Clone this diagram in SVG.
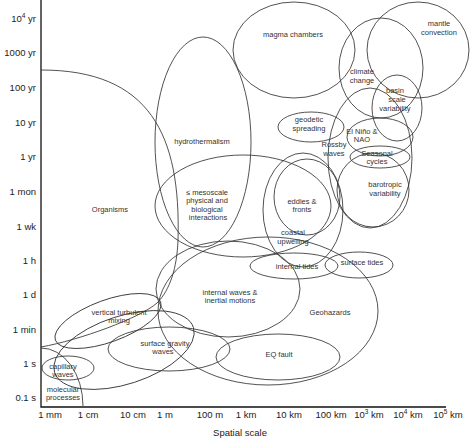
<svg xmlns="http://www.w3.org/2000/svg" width="474" height="440" viewBox="0 0 474 440">
<style>
.e{fill:none;stroke:#333;stroke-width:0.85}
.t{font-family:"Liberation Sans",Arial,sans-serif;font-size:7.5px;fill:#333;text-anchor:middle}
.ax{font-family:"Liberation Sans",Arial,sans-serif;font-size:9.5px;fill:#222}
.ya{text-anchor:end}
.xa{text-anchor:middle}
.axis{fill:none;stroke:#111;stroke-width:1.3}
</style>
<rect width="474" height="440" fill="#fff"/>

<g id="axes">
<path class="axis" d="M41,0 V407 H446"/>
<g class="ax ya">
<text x="36" y="22">10<tspan font-size="6.5" dy="-4">4</tspan><tspan dy="4"> yr</tspan></text>
<text x="36" y="56">1000 yr</text>
<text x="36" y="91">100 yr</text>
<text x="36" y="126">10 yr</text>
<text x="36" y="160">1 yr</text>
<text x="36" y="195">1 mon</text>
<text x="36" y="230">1 wk</text>
<text x="36" y="264">1 h</text>
<text x="36" y="298">1 d</text>
<text x="36" y="333">1 min</text>
<text x="36" y="367">1 s</text>
<text x="36" y="401">0.1 s</text>
</g>
<g class="ax xa">
<text x="50" y="418">1 mm</text>
<text x="88" y="418">1 cm</text>
<text x="133" y="418">10 cm</text>
<text x="165" y="418">1 m</text>
<text x="210" y="418">100 m</text>
<text x="246" y="418">1 km</text>
<text x="289" y="418">10 km</text>
<text x="331" y="418">100 km</text>
<text x="369" y="418">10<tspan font-size="6.5" dy="-4">3</tspan><tspan dy="4"> km</tspan></text>
<text x="408" y="418">10<tspan font-size="6.5" dy="-4">4</tspan><tspan dy="4"> km</tspan></text>
<text x="448" y="418">10<tspan font-size="6.5" dy="-4">5</tspan><tspan dy="4"> km</tspan></text>
<text x="240" y="436">Spatial scale</text>
</g>
</g>

<g id="organisms"><path class="e" d="M41,70 C150,70 181,135 178,240 C177,268 170,290 157,303 C140,318 80,340 41,347"/><text class="t" x="110" y="212">Organisms</text></g>
<g id="molecular"><path class="e" d="M41,348 A42,58 0 0,1 83,406"/><text class="t" x="63" y="392">molecular</text><text class="t" x="63" y="400">processes</text></g>
<g id="capillary"><ellipse class="e" cx="68" cy="368" rx="26" ry="12"/><text class="t" x="63" y="369">capillary</text><text class="t" x="63" y="377">waves</text></g>
<g id="vertical-mixing"><ellipse class="e" cx="108" cy="321" rx="56" ry="21" transform="rotate(-20 108 321)"/><text class="t" x="119" y="315">vertical turbulent</text><text class="t" x="119" y="323">mixing</text></g>
<g id="small-scale"><ellipse class="e" cx="124" cy="350" rx="73" ry="34" transform="rotate(-18 124 350)"/></g>
<g id="surface-gravity"><ellipse class="e" cx="169" cy="349" rx="61" ry="22"/><text class="t" x="165" y="346">surface gravity</text><text class="t" x="163" y="354">waves</text></g>
<g id="hydrothermalism"><ellipse class="e" cx="203" cy="142" rx="48" ry="105"/><text class="t" x="202" y="144">hydrothermalism</text></g>
<g id="mesoscale"><ellipse class="e" cx="243" cy="206" rx="88" ry="51"/><text class="t" x="207" y="195">≤ mesoscale</text><text class="t" x="207" y="203">physical and</text><text class="t" x="207" y="212">biological</text><text class="t" x="208" y="220">interactions</text></g>
<g id="internal-waves"><ellipse class="e" cx="228" cy="289" rx="72" ry="48"/><text class="t" x="230" y="295">internal waves &amp;</text><text class="t" x="230" y="303">inertial motions</text></g>
<g id="geohazards"><ellipse class="e" cx="268" cy="311" rx="110" ry="74"/><text class="t" x="330" y="315">Geohazards</text></g>
<g id="eq-fault"><ellipse class="e" cx="278" cy="357" rx="62" ry="23"/><text class="t" x="279" y="357">EQ fault</text></g>
<g id="internal-tides"><ellipse class="e" cx="294" cy="266" rx="44" ry="13"/><text class="t" x="297" y="269">internal tides</text></g>
<g id="surface-tides"><ellipse class="e" cx="359" cy="265" rx="34" ry="13"/><text class="t" x="362" y="265">surface tides</text></g>
<g id="coastal-upwelling"><ellipse class="e" cx="303" cy="210" rx="40" ry="57"/><text class="t" x="293" y="235">coastal</text><text class="t" x="293" y="244">upwelling</text></g>
<g id="eddies"><ellipse class="e" cx="307" cy="197" rx="33" ry="38"/><text class="t" x="302" y="204">eddies &amp;</text><text class="t" x="302" y="212">fronts</text></g>
<g id="geodetic"><ellipse class="e" cx="311" cy="127" rx="33" ry="15"/><text class="t" x="309" y="122">geodetic</text><text class="t" x="309" y="131">spreading</text></g>
<g id="magma"><ellipse class="e" cx="294" cy="50" rx="61" ry="48"/><text class="t" x="293" y="37">magma chambers</text></g>
<g id="mantle"><ellipse class="e" cx="418" cy="50" rx="51" ry="48"/><text class="t" x="439" y="26">mantle</text><text class="t" x="439" y="35">convection</text></g>
<g id="climate"><ellipse class="e" cx="381" cy="68" rx="42" ry="50"/><text class="t" x="362" y="74">climate</text><text class="t" x="362" y="83">change</text></g>
<g id="basin"><ellipse class="e" cx="397" cy="108" rx="25" ry="33"/><text class="t" x="395" y="93">basin</text><text class="t" x="397" y="102">scale</text><text class="t" x="395" y="111">variability</text></g>
<g id="rossby"><ellipse class="e" cx="370" cy="158" rx="42" ry="70"/><text class="t" x="334" y="147">Rossby</text><text class="t" x="334" y="156">waves</text></g>
<g id="elnino"><ellipse class="e" cx="380" cy="137" rx="33" ry="19"/><text class="t" x="362" y="134">El Niño &amp;</text><text class="t" x="362" y="142">NAO</text></g>
<g id="seasonal"><ellipse class="e" cx="380" cy="157" rx="30" ry="11"/><text class="t" x="377" y="156">Seasonal</text><text class="t" x="377" y="164">cycles</text></g>
<g id="barotropic"><ellipse class="e" cx="373" cy="190" rx="36" ry="37"/><text class="t" x="385" y="187">barotropic</text><text class="t" x="385" y="196">variability</text></g>
<g id="connectors"></g>
</svg>
